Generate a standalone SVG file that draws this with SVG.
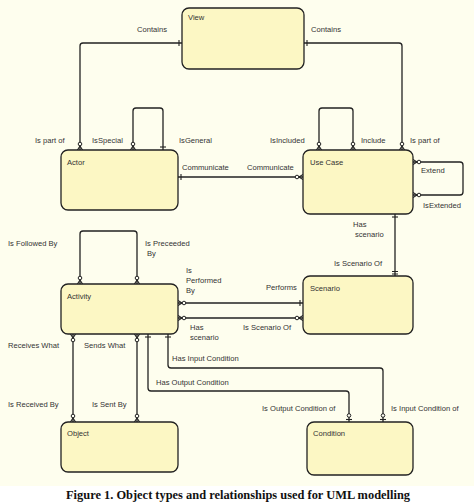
<svg xmlns="http://www.w3.org/2000/svg" width="474" height="502" viewBox="0 0 474 502">
<style>
.node{fill:#fcf7c4;stroke:#222;stroke-width:1.3}
.lbl{font-family:"Liberation Sans",Arial,sans-serif;font-size:7.6px;fill:#333}
.conn path{fill:none;stroke:#222;stroke-width:1.3}
.cap{font-family:"Liberation Serif","Times New Roman",serif;font-size:11.5px;font-weight:bold;fill:#111}
</style>
<defs>
<marker id="one" markerUnits="userSpaceOnUse" markerWidth="20" markerHeight="20" refX="0" refY="0" viewBox="-10 -10 20 20" orient="auto-start-reverse" overflow="visible">
<path d="M-3,-3 L-3,3" stroke="#222" stroke-width="1.1" fill="none"/>
</marker>
<marker id="two" markerUnits="userSpaceOnUse" markerWidth="20" markerHeight="20" refX="0" refY="0" viewBox="-10 -10 20 20" orient="auto-start-reverse" overflow="visible">
<path d="M-2,-3 L-2,3 M-4.5,-3 L-4.5,3" stroke="#222" stroke-width="1.1" fill="none"/>
</marker>
<marker id="zmany" markerUnits="userSpaceOnUse" markerWidth="20" markerHeight="20" refX="0" refY="0" viewBox="-10 -10 20 20" orient="auto-start-reverse" overflow="visible">
<path d="M-4,0 L0,-2.6 M-4,0 L0,2.6" stroke="#222" stroke-width="1.1" fill="none"/>
<circle cx="-6" cy="0" r="1.8" fill="#fffff4" stroke="#222" stroke-width="1"/>
</marker>
<marker id="zone" markerUnits="userSpaceOnUse" markerWidth="20" markerHeight="20" refX="0" refY="0" viewBox="-10 -10 20 20" orient="auto-start-reverse" overflow="visible">
<path d="M-2.5,-3 L-2.5,3" stroke="#222" stroke-width="1.1" fill="none"/>
<circle cx="-6.5" cy="0" r="1.8" fill="#fffff4" stroke="#222" stroke-width="1"/>
</marker>
</defs>
<rect x="0" y="0" width="474" height="486" fill="#fefeee"/>
<rect x="0" y="486" width="474" height="16" fill="#ffffff"/>

<g id="connectors" class="conn">
<path d="M80,150 V46 Q80,43 83,43 H182" marker-start="url(#zmany)" marker-end="url(#one)"/>
<path d="M402,150 V46 Q402,43 399,43 H304" marker-start="url(#zmany)" marker-end="url(#one)"/>
<path d="M133,150 V111 Q133,108 136,108 H160 Q163,108 163,111 V150" marker-start="url(#zmany)" marker-end="url(#one)"/>
<path d="M178,177 H303" marker-start="url(#one)" marker-end="url(#zmany)"/>
<path d="M319,150 V111 Q319,108 322,108 H350 Q353,108 353,111 V150" marker-start="url(#zmany)" marker-end="url(#zmany)"/>
<path d="M413,162 H460 Q463,162 463,165 V192 Q463,195 460,195 H413" marker-start="url(#zmany)" marker-end="url(#zmany)"/>
<path d="M395,214 V276" marker-start="url(#one)" marker-end="url(#two)"/>
<path d="M80,284 V234 Q80,231 83,231 H134 Q137,231 137,234 V284" marker-start="url(#zmany)" marker-end="url(#zmany)"/>
<path d="M178,303 H303" marker-start="url(#zmany)" marker-end="url(#one)"/>
<path d="M178,318 H303" marker-start="url(#zmany)" marker-end="url(#zmany)"/>
<path d="M73,334 V422" marker-start="url(#zmany)" marker-end="url(#zmany)"/>
<path d="M137,334 V422" marker-start="url(#zmany)" marker-end="url(#zmany)"/>
<path d="M148,334 V388 Q148,391 151,391 H346 Q349,391 349,394 V422" marker-start="url(#one)" marker-end="url(#zone)"/>
<path d="M168,334 V365 Q168,368 171,368 H380 Q383,368 383,371 V422" marker-start="url(#one)" marker-end="url(#zone)"/>
</g>

<g id="view"><rect class="node" x="182" y="8" width="122" height="61" rx="7"/><text class="lbl" x="188" y="20">View</text></g>
<g id="actor"><rect class="node" x="61" y="150" width="117" height="60" rx="7"/><text class="lbl" x="67" y="165">Actor</text></g>
<g id="usecase"><rect class="node" x="303" y="150" width="110" height="64" rx="7"/><text class="lbl" x="310" y="165">Use Case</text></g>
<g id="activity"><rect class="node" x="61" y="284" width="117" height="50" rx="7"/><text class="lbl" x="67" y="299">Activity</text></g>
<g id="scenario"><rect class="node" x="303" y="276" width="110" height="58" rx="7"/><text class="lbl" x="310" y="291">Scenario</text></g>
<g id="object"><rect class="node" x="61" y="422" width="117" height="50" rx="7"/><text class="lbl" x="67" y="436">Object</text></g>
<g id="condition"><rect class="node" x="307" y="422" width="106" height="53" rx="7"/><text class="lbl" x="313" y="436">Condition</text></g>

<g id="labels">
<text class="lbl" x="137" y="32">Contains</text>
<text class="lbl" x="311" y="32">Contains</text>
<text class="lbl" x="35" y="143">Is part of</text>
<text class="lbl" x="92" y="143">IsSpecial</text>
<text class="lbl" x="179" y="143">IsGeneral</text>
<text class="lbl" x="182" y="170">Communicate</text>
<text class="lbl" x="247" y="170">Communicate</text>
<text class="lbl" x="270" y="143">IsIncluded</text>
<text class="lbl" x="361" y="143">Include</text>
<text class="lbl" x="410" y="143">Is part of</text>
<text class="lbl" x="421" y="173">Extend</text>
<text class="lbl" x="423" y="208">IsExtended</text>
<text class="lbl" x="353" y="227">Has</text>
<text class="lbl" x="355" y="237">scenario</text>
<text class="lbl" x="334" y="266">Is Scenario Of</text>
<text class="lbl" x="8" y="246">Is Followed By</text>
<text class="lbl" x="145" y="246">Is Preceeded</text>
<text class="lbl" x="147" y="256">By</text>
<text class="lbl" x="186" y="273">Is</text>
<text class="lbl" x="186" y="283">Performed</text>
<text class="lbl" x="186" y="293">By</text>
<text class="lbl" x="266" y="290">Performs</text>
<text class="lbl" x="190" y="330">Has</text>
<text class="lbl" x="190" y="340">scenario</text>
<text class="lbl" x="243" y="330">Is Scenario Of</text>
<text class="lbl" x="8" y="348">Receives What</text>
<text class="lbl" x="84" y="348">Sends What</text>
<text class="lbl" x="172" y="361">Has Input Condition</text>
<text class="lbl" x="156" y="385">Has Output Condition</text>
<text class="lbl" x="8" y="407">Is Received By</text>
<text class="lbl" x="92" y="407">Is Sent By</text>
<text class="lbl" x="262" y="411">Is Output Condition of</text>
<text class="lbl" x="391" y="411">Is Input Condition of</text>
</g>
<text class="cap" x="66" y="498.5" textLength="344" lengthAdjust="spacingAndGlyphs">Figure 1. Object types and relationships used for UML modelling</text>
</svg>
